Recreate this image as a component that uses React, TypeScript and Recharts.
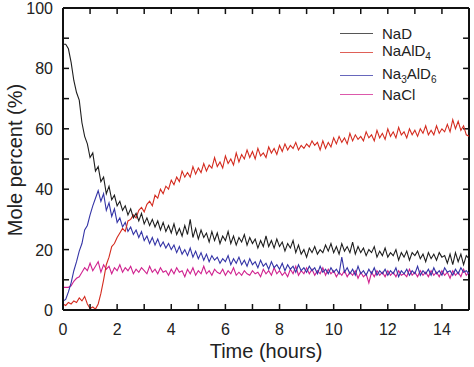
import React from "react";
import { LineChart, Line, XAxis, YAxis, ReferenceLine } from "recharts";

const hours = [
  0, 0.1, 0.2, 0.3, 0.4, 0.5, 0.6, 0.7, 0.8, 0.9, 1, 1.1, 1.2, 1.3, 1.4, 1.5, 1.6, 1.7, 1.8, 1.9,
  2, 2.1, 2.2, 2.3, 2.4, 2.5, 2.6, 2.7, 2.8, 2.9, 3, 3.1, 3.2, 3.3, 3.4, 3.5, 3.6, 3.7, 3.8, 3.9,
  4, 4.1, 4.2, 4.3, 4.4, 4.5, 4.6, 4.7, 4.8, 4.9, 5, 5.1, 5.2, 5.3, 5.4, 5.5, 5.6, 5.7, 5.8, 5.9,
  6, 6.1, 6.2, 6.3, 6.4, 6.5, 6.6, 6.7, 6.8, 6.9, 7, 7.1, 7.2, 7.3, 7.4, 7.5, 7.6, 7.7, 7.8, 7.9,
  8, 8.1, 8.2, 8.3, 8.4, 8.5, 8.6, 8.7, 8.8, 8.9, 9, 9.1, 9.2, 9.3, 9.4, 9.5, 9.6, 9.7, 9.8, 9.9,
  10, 10.1, 10.2, 10.3, 10.4, 10.5, 10.6, 10.7, 10.8, 10.9, 11, 11.1, 11.2, 11.3, 11.4, 11.5, 11.6, 11.7, 11.8, 11.9,
  12, 12.1, 12.2, 12.3, 12.4, 12.5, 12.6, 12.7, 12.8, 12.9, 13, 13.1, 13.2, 13.3, 13.4, 13.5, 13.6, 13.7, 13.8, 13.9,
  14, 14.1, 14.2, 14.3, 14.4, 14.5, 14.6, 14.7, 14.8, 14.9, 15,
];

const nad = [
  88, 88, 86.5, 82, 76, 72, 69.5, 62, 57.5, 55, 50.5, 52, 46, 47.5, 42.5, 44, 38.5, 41, 36.5, 38,
  34.5, 36, 33, 34.5, 31.5, 33.5, 30.5, 32, 29.5, 32, 28.5, 30.5, 28, 30, 27.5, 29.5, 26.5, 29, 26, 28,
  25.5, 28.5, 25, 27, 24.5, 28, 25, 30, 24, 27, 23.5, 26.5, 24, 25.5, 22.5, 26, 23, 25.5, 22, 24.5,
  23, 26, 22, 24.5, 21.5, 24, 22.5, 25, 21.5, 24, 22, 23.5, 20.5, 23, 21, 24.5, 21, 23, 20.5, 23.5,
  21, 22.5, 19.5, 22, 20.5, 23, 19, 21.5, 18.5, 20, 17.5, 20.5, 19, 21, 18.5, 20, 19, 21.5, 19.5, 22,
  19, 21, 18.5, 22, 19.5, 21, 19, 22.5, 18.5, 21, 19, 20.5, 18, 20, 19, 21, 17.5, 19.5, 18, 20.5,
  17.5, 19, 18, 20, 16.5, 19, 17.5, 19.5, 16.5, 19, 18, 19.5, 17, 18.5, 16, 19, 17, 18.5, 16.5, 19,
  17.5, 18, 15.5, 18.5, 15, 19, 16, 18.5, 15, 18, 17,
];

const naald4 = [
  2, 1.5, 2.5, 2, 3, 2.5, 4, 3, 4.5, 2, 0.5, 1, 0.3, 2, 5.5, 10, 15, 17.5, 21, 22,
  24, 25.5, 27, 26, 29.5, 30, 31.5, 30.5, 33, 34, 32.5, 35, 36, 34.5, 38, 37, 40, 38.5, 41, 40,
  43, 41.5, 44, 42.5, 46, 44, 45.5, 44, 47.5, 45, 47, 45.5, 48.5, 46, 48, 47, 50.5, 47.5, 49, 47,
  51, 48.5, 50, 48, 52, 49, 51.5, 50, 53, 50.5, 52.5, 50, 53.5, 51, 52, 50.5, 54, 52, 53.5, 51.5,
  54.5, 52.5, 55, 53, 54.5, 53.5, 55.5, 53, 54.5, 53.5, 55, 54, 56, 54.5, 55.5, 53, 56, 53.5, 55.5, 54,
  57, 55, 57.5, 55.5, 57, 55, 58.5, 56, 58, 56.5, 57.5, 56, 59, 57, 58, 56, 59.5, 57, 58.5, 56.5,
  60, 57.5, 59, 57, 60.5, 58, 59, 57, 60, 58, 59.5, 57.5, 60, 58.5, 61, 58, 59.5, 58, 61, 58.5,
  60, 59, 61.5, 59, 63, 60, 62.5, 59.5, 61, 58, 57.5,
];

const na3ald6 = [
  3, 3.5, 6, 9, 13, 16, 19.5, 22, 26.5, 28, 31.5, 34.5, 37, 39.5, 36, 38.5, 33, 35.5, 31, 33.5,
  29, 30.5, 27.5, 29, 26, 27.5, 25, 26.5, 24, 26, 23, 24.5, 22, 24, 21.5, 23.5, 21, 22.5, 20.5, 22,
  20, 21.5, 19, 21, 18.5, 20, 18, 20.5, 17.5, 19.5, 17, 19, 16.5, 18.5, 16, 18, 16.5, 17.5, 15.5, 17,
  16, 18, 15, 17, 15.5, 17.5, 15, 16.5, 14.5, 17, 15, 16, 14, 16.5, 14.5, 15.5, 13.5, 16, 14, 15,
  13.5, 15.5, 13, 15, 13.5, 14.5, 12.5, 15, 13, 14, 12.5, 14.5, 13, 14, 12, 14.5, 12.5, 13.5, 12, 14,
  12.5, 13.5, 12, 17.5, 12.5, 14, 12, 13.5, 11.5, 14.5, 12, 13, 11.5, 13.5, 12, 14, 11.5, 13, 12, 13.5,
  11.5, 13, 12, 14, 11, 13, 12, 13.5, 11.5, 13, 12, 14.5, 11.5, 13, 12, 13.5, 11.5, 14, 12, 13,
  11.5, 14, 12.5, 13, 11.5, 13.5, 12, 14, 12.5, 13, 12,
];

const nacl = [
  7.5, 7.5, 7.5, 8, 9.5, 10.5, 11, 12.5, 14, 13, 15.5, 13, 14.5, 16, 12.5, 15, 13.5, 14.5, 12, 14,
  13, 15, 12.5, 14, 13, 14.5, 12, 13.5, 12.5, 14, 13, 12, 14.5, 12.5, 13.5, 12, 14, 12.5, 13, 11.5,
  13.5, 12, 14, 12.5, 13, 11, 13.5, 12, 14, 11.5, 13, 12, 14.5, 12, 13, 11.5, 13.5, 12.5, 12, 13.5,
  11.5, 13, 12, 14, 11.5, 12.5, 11.5, 13, 12, 11.5, 13, 12, 12.5, 11, 13.5, 12, 13, 11.5, 14, 12,
  13, 11.5, 12.5, 11, 13.5, 12, 14.5, 11.5, 13, 12, 14, 12, 13.5, 11.5, 13, 12, 14, 11.5, 13.5, 12,
  13, 11, 12.5, 11.5, 13, 11, 12.5, 11.5, 13, 10.5, 12.5, 11, 12, 9, 12.5, 11, 13, 11.5, 12.5, 11,
  13, 11.5, 12.5, 11, 13, 11.5, 12, 11, 13.5, 11.5, 12.5, 11, 13, 11.5, 12.5, 11, 13, 11.5, 12.5, 11,
  13, 11.5, 12.5, 10.5, 13, 11.5, 12.5, 11, 13.5, 11.5, 12.5,
];

const xTicks = [0, 1, 2, 3, 4, 5, 6, 7, 8, 9, 10, 11, 12, 13, 14];
const yTicks = [0, 10, 20, 30, 40, 50, 60, 70, 80, 90, 100];

const series = [
  { key: "nad", color: "#1e1e1e", label: [["NaD", ""]] },
  { key: "naald4", color: "#d42b1f", label: [["NaAlD", "4"]] },
  { key: "na3ald6", color: "#3434a6", label: [["Na", "3"], ["AlD", "6"]] },
  { key: "nacl", color: "#d0228f", label: [["NaCl", ""]] },
];

const data = hours.map((t, i) => ({
  t,
  nad: nad[i],
  naald4: naald4[i],
  na3ald6: na3ald6[i],
  nacl: nacl[i],
}));

const FONT = "'Liberation Sans', Arial, sans-serif";
const X_MAX = 15;
const Y_MAX = 100;
// inward tick length in data units (~6px)
const TICK_DY = 2;
const TICK_DX = 0.22;

const BottomTick = (props: any) => {
  const { x, y, payload } = props;
  const v = payload.value;
  return (
    <g>
      {v > 0 && <line x1={x} y1={y} x2={x} y2={y - 6} stroke="#111" strokeWidth={1.5} />}
      {v % 2 === 0 && (
        <text x={x} y={y + 25} textAnchor="middle" fontSize={16} fill="#222" fontFamily={FONT}>
          {v}
        </text>
      )}
    </g>
  );
};

const LeftTick = (props: any) => {
  const { x, y, payload } = props;
  const v = payload.value;
  return (
    <g>
      {v > 0 && v < Y_MAX && <line x1={x} y1={y} x2={x + 6} y2={y} stroke="#111" strokeWidth={1.5} />}
      {v % 20 === 0 && (
        <text x={x - 10} y={y + 6} textAnchor="end" fontSize={16} fill="#222" fontFamily={FONT}>
          {v}
        </text>
      )}
    </g>
  );
};

const Legend = () => (
  <div style={{ position: "absolute", left: 340, top: 23, width: 130, fontFamily: FONT, fontSize: 15, color: "#222" }}>
    {series.map((s, i) => (
      <div key={s.key} style={{ position: "absolute", top: [0, 19, 42, 61][i], left: 0, display: "flex", alignItems: "center", height: 20 }}>
        <div style={{ width: 33, height: 0, borderTop: `1.2px solid ${s.color}`, opacity: 0.75, marginRight: 9 }} />
        <span style={{ whiteSpace: "nowrap" }}>
          {s.label.map(([main, sub], j) => (
            <React.Fragment key={j}>
              {main}
              {sub && <sub style={{ fontSize: 10, verticalAlign: "-4px" }}>{sub}</sub>}
            </React.Fragment>
          ))}
        </span>
      </div>
    ))}
  </div>
);

export default function App() {
  return (
    <div style={{ position: "fixed", left: 0, top: 0, width: 474, height: 367, background: "#fff" }}>
      <LineChart width={474} height={367} data={data} margin={{ top: 8, right: 5, left: 0, bottom: 27 }}>
        <XAxis
          dataKey="t"
          type="number"
          domain={[0, X_MAX]}
          ticks={xTicks}
          interval={0}
          tickSize={0}
          tickMargin={0}
          tickLine={false}
          height={30}
          axisLine={{ stroke: "#111", strokeWidth: 2 }}
          tick={<BottomTick />}
        />
        <YAxis
          type="number"
          domain={[0, Y_MAX]}
          ticks={yTicks}
          interval={0}
          tickSize={0}
          tickMargin={0}
          tickLine={false}
          width={63}
          axisLine={{ stroke: "#111", strokeWidth: 2 }}
          tick={<LeftTick />}
        />
        <ReferenceLine y={Y_MAX} stroke="#111" strokeWidth={2} />
        <ReferenceLine x={X_MAX} stroke="#111" strokeWidth={2} />
        {xTicks.filter((v) => v > 0).map((v) => (
          <ReferenceLine key={`t${v}`} segment={[{ x: v, y: Y_MAX }, { x: v, y: Y_MAX - TICK_DY }]} stroke="#111" strokeWidth={1.5} />
        ))}
        {yTicks.filter((v) => v > 0 && v < Y_MAX).map((v) => (
          <ReferenceLine key={`r${v}`} segment={[{ x: X_MAX, y: v }, { x: X_MAX - TICK_DX, y: v }]} stroke="#111" strokeWidth={1.5} />
        ))}
        <Line dataKey="nacl" name="NaCl" stroke="#d0228f" strokeWidth={1.1} dot={false} isAnimationActive={false} />
        <Line dataKey="na3ald6" name="Na3AlD6" stroke="#3434a6" strokeWidth={1.1} dot={false} isAnimationActive={false} />
        <Line dataKey="naald4" name="NaAlD4" stroke="#d42b1f" strokeWidth={1.1} dot={false} isAnimationActive={false} />
        <Line dataKey="nad" name="NaD" stroke="#1e1e1e" strokeWidth={1.1} dot={false} isAnimationActive={false} />
      </LineChart>
      <Legend />
      <div
        style={{
          position: "absolute",
          left: 266,
          top: 340,
          transform: "translateX(-50%)",
          fontFamily: FONT,
          fontSize: 20,
          color: "#222",
          whiteSpace: "nowrap",
        }}
      >
        Time (hours)
      </div>
      <div
        style={{
          position: "absolute",
          left: 15,
          top: 160,
          transform: "translate(-50%, -50%) rotate(-90deg)",
          fontFamily: FONT,
          fontSize: 20,
          color: "#222",
          whiteSpace: "nowrap",
        }}
      >
        Mole percent (%)
      </div>
    </div>
  );
}
